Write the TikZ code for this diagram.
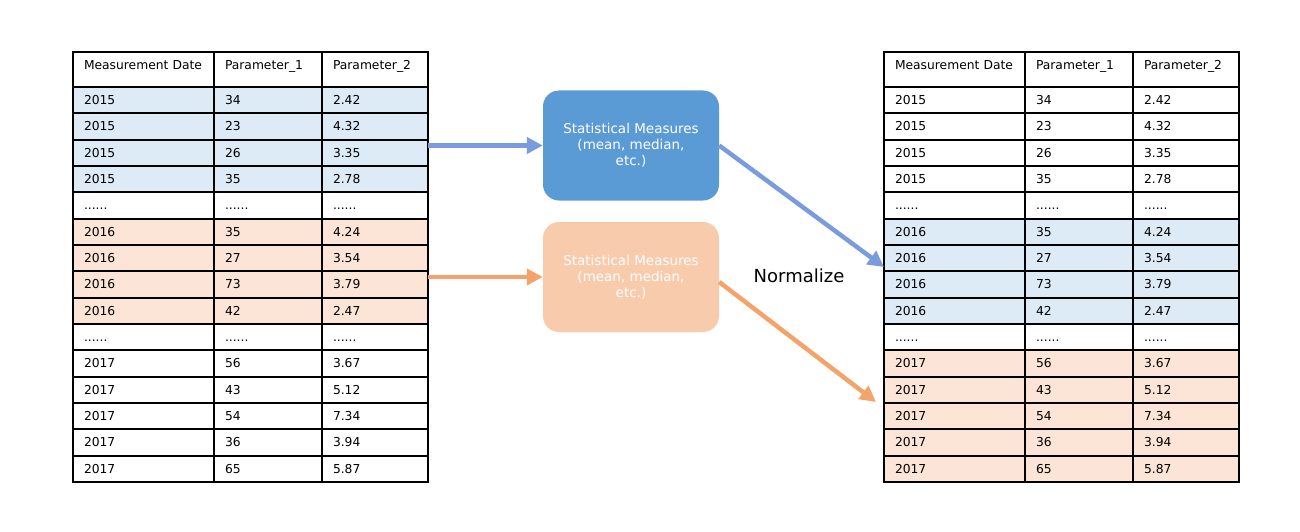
\documentclass[tikz,border=0pt]{standalone}
\usepackage{fontspec}
\setmainfont{DejaVu Sans}
\usetikzlibrary{arrows.meta, positioning, calc}
\definecolor{myblue}{RGB}{91,155,213}
\definecolor{myorange}{RGB}{248,203,173}
\definecolor{rowblue}{RGB}{221,235,247}
\definecolor{roworange}{RGB}{252,228,214}
\definecolor{arrblue}{RGB}{122,156,220}
\definecolor{arrorange}{RGB}{244,163,106}
\newcommand{\skipdots}{......}
\tikzset{
  cell/.style={rectangle, draw=black, line width=1.8pt, anchor=north west,
    outer sep=0pt, inner xsep=11pt, minimum height=26.33pt, text height=8.8pt,
    text depth=0pt, align=left, font=\fontsize{12.3}{14}\selectfont},
  colA/.style={cell, minimum width=141pt, text width=119pt},
  colB/.style={cell, minimum width=108pt, text width=86pt},
  colC/.style={cell, minimum width=106pt, text width=84pt},
  hdr/.style={minimum height=35pt, text depth=8.8pt},
  statbox/.style={rectangle, rounded corners=16pt, minimum width=176pt,
    minimum height=110pt, align=center, text=white,
    font=\fontsize{13.5}{16}\selectfont},
  bluearrow/.style={-{Triangle[length=16pt, width=16pt]}, line width=4.5pt, color=arrblue},
  orangearrow/.style={-{Triangle[length=16pt, width=16pt]}, line width=4.5pt, color=arrorange}
}
\begin{document}
\begin{tikzpicture}[x=1pt, y=-1pt]
  \useasboundingbox (0,0) rectangle (1300,532);

  % Headers
  \node[colA, hdr] (l0-a) at (73,52) {Measurement Date};
  \node[colB, hdr] (l0-b) at (214,52) {Parameter\_1};
  \node[colC, hdr] (l0-c) at (322,52) {Parameter\_2};
  \node[colA, hdr] (r0-a) at (884,52) {Measurement Date};
  \node[colB, hdr] (r0-b) at (1025,52) {Parameter\_1};
  \node[colC, hdr] (r0-c) at (1133,52) {Parameter\_2};

  % Rows
  \foreach \r/\yr/\pa/\pb/\lf/\rf [evaluate=\r as \y using 87+(\r-1)*26.33] in {
      1/2015/34/2.42/rowblue/white, 2/2015/23/4.32/rowblue/white,
      3/2015/26/3.35/rowblue/white, 4/2015/35/2.78/rowblue/white,
      5/\skipdots/\skipdots/\skipdots/white/white,
      6/2016/35/4.24/roworange/rowblue, 7/2016/27/3.54/roworange/rowblue,
      8/2016/73/3.79/roworange/rowblue, 9/2016/42/2.47/roworange/rowblue,
      10/\skipdots/\skipdots/\skipdots/white/white,
      11/2017/56/3.67/white/roworange, 12/2017/43/5.12/white/roworange,
      13/2017/54/7.34/white/roworange, 14/2017/36/3.94/white/roworange,
      15/2017/65/5.87/white/roworange} {
    \node[colA, fill=\lf] (l\r-a) at (73,\y) {\yr};
    \node[colB, fill=\lf] (l\r-b) at (214,\y) {\pa};
    \node[colC, fill=\lf] (l\r-c) at (322,\y) {\pb};
    \node[colA, fill=\rf] (r\r-a) at (884,\y) {\yr};
    \node[colB, fill=\rf] (r\r-b) at (1025,\y) {\pa};
    \node[colC, fill=\rf] (r\r-c) at (1133,\y) {\pb};
  }

  % Statistics
  \node[statbox, fill=myblue] (sblue) at (631,145.5) {Statistical Measures\\(mean, median,\\etc.)};
  \node[statbox, fill=myorange] (sorange) at (631,277) {Statistical Measures\\(mean, median,\\etc.)};

  \node[font=\fontsize{18}{20}\selectfont] (norm) at (799,276) {Normalize};

  % Arrows
  \coordinate (bluetip) at (884,267);
  \coordinate (orangetip) at (876,402);
  \draw[bluearrow] (l3-c.east |- sblue.west) -- (sblue.west);
  \draw[orangearrow] (l8-c.east |- sorange.west) -- (sorange.west);
  \draw[bluearrow] (sblue.east) -- (bluetip);
  \draw[orangearrow] ($(sorange.east)+(0,5)$) -- (orangetip);
\end{tikzpicture}
\end{document}
